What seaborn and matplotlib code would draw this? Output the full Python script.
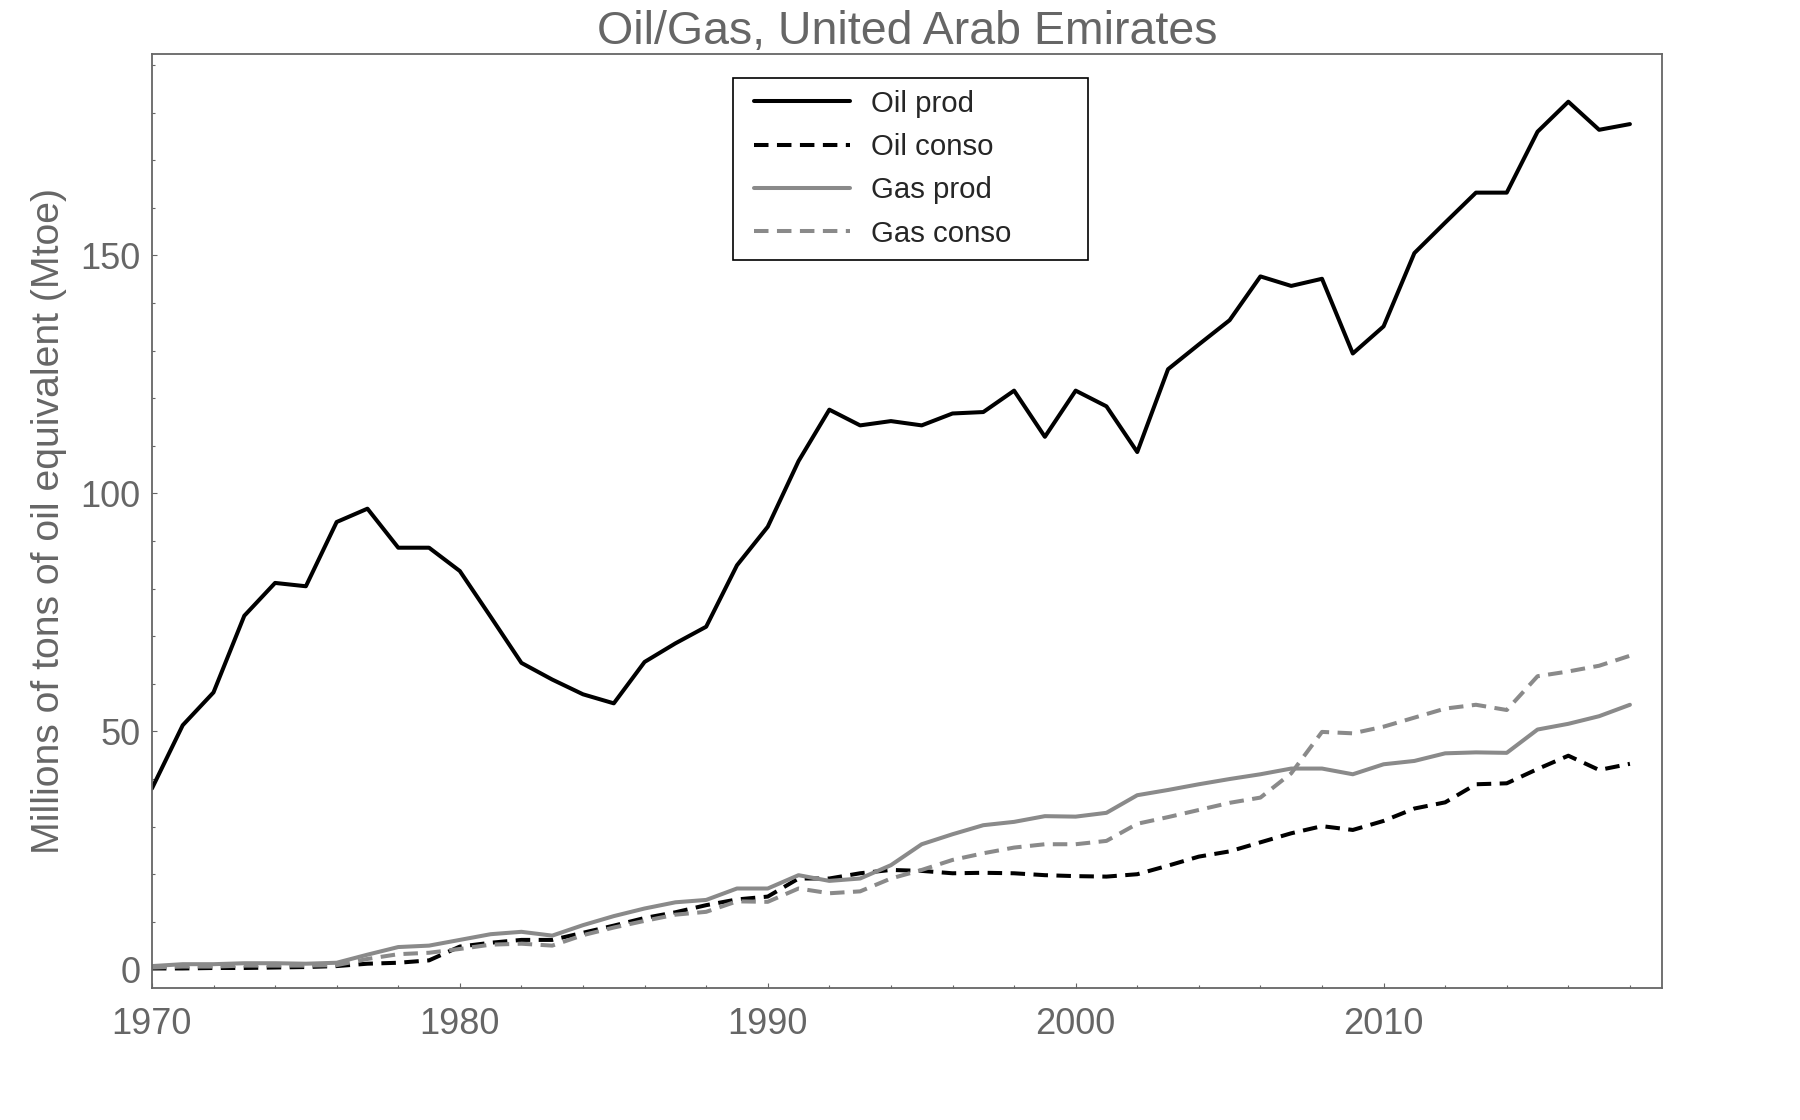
import matplotlib
matplotlib.use("Agg")
import matplotlib.pyplot as plt
from matplotlib.ticker import MultipleLocator
from matplotlib.lines import Line2D
from matplotlib.legend_handler import HandlerLine2D
import seaborn as sns
import pandas as pd

# values (Mtoe)
years = list(range(1970, 2019))

oil_prod = [38.0, 51.3, 58.2, 74.3, 81.2, 80.5, 94.0, 96.8, 88.6, 88.6,
            83.7, 74.1, 64.4, 60.9, 57.8, 55.9, 64.6, 68.5, 72.0, 84.9,
            93.0, 106.8, 117.6, 114.3, 115.2, 114.3, 116.8, 117.1, 121.6, 111.9,
            121.6, 118.3, 108.7, 126.1, 131.3, 136.4, 145.6, 143.6, 145.1, 129.4,
            135.1, 150.5, 156.9, 163.2, 163.2, 176.0, 182.3, 176.4, 177.6]

oil_conso = [0.2, 0.2, 0.3, 0.3, 0.4, 0.5, 0.7, 1.2, 1.4, 1.9,
             4.8, 5.6, 6.2, 6.2, 7.7, 9.2, 10.8, 12.0, 13.5, 14.7,
             15.3, 19.1, 19.1, 20.2, 20.9, 20.7, 20.2, 20.3, 20.2, 19.8,
             19.6, 19.5, 20.0, 21.8, 23.7, 24.8, 26.7, 28.6, 30.1, 29.3,
             31.2, 33.8, 35.1, 38.9, 39.1, 42.1, 44.9, 41.9, 43.2]

gas_prod = [0.7, 1.1, 1.1, 1.3, 1.3, 1.2, 1.4, 3.1, 4.7, 5.0,
            6.2, 7.4, 7.9, 7.1, 9.3, 11.2, 12.8, 14.1, 14.6, 17.0,
            17.0, 19.8, 18.6, 19.1, 21.9, 26.3, 28.4, 30.3, 31.0, 32.2,
            32.1, 32.9, 36.6, 37.7, 38.9, 40.0, 41.0, 42.2, 42.2, 41.0,
            43.1, 43.8, 45.4, 45.6, 45.5, 50.4, 51.6, 53.2, 55.6]

gas_conso = [0.4, 0.6, 0.6, 0.8, 0.8, 0.8, 0.9, 2.2, 3.2, 3.5,
             4.3, 5.2, 5.4, 5.0, 7.2, 8.8, 10.2, 11.5, 12.1, 14.3,
             14.2, 17.0, 16.0, 16.4, 19.1, 20.9, 23.0, 24.4, 25.6, 26.3,
             26.3, 27.0, 30.6, 32.0, 33.5, 35.0, 36.1, 41.2, 49.9, 49.6,
             51.0, 52.9, 54.8, 55.6, 54.5, 61.6, 62.6, 63.8, 65.9]

series_names = ["Oil prod", "Oil conso", "Gas prod", "Gas conso"]

AXIS_GREY = "#666666"
LINE_GREY = "#8a8a8a"


def plot_oil_gas(df):
    sns.set_style("ticks")
    plt.rcParams['font.family'] = ['Liberation Sans', 'DejaVu Sans']

    fig = plt.figure(figsize=(18, 11.2), dpi=100)
    ax = fig.add_axes([0.0844, 0.1183, 0.8389, 0.8338])

    palette = {"Oil prod": "black", "Oil conso": "black",
               "Gas prod": LINE_GREY, "Gas conso": LINE_GREY}
    dashes = {"Oil prod": "", "Oil conso": (3.6, 2.1),
              "Gas prod": "", "Gas conso": (3.6, 2.1)}

    sns.lineplot(data=df, x="Year", y="Mtoe", hue="Series", style="Series",
                 hue_order=series_names, style_order=series_names,
                 palette=palette, dashes=dashes, linewidth=2.9,
                 errorbar=None, ax=ax)

    ax.set_xlim(1970, 2019.04)
    ax.set_ylim(-3.8, 192.4)
    ax.xaxis.set_major_locator(MultipleLocator(10))
    ax.xaxis.set_minor_locator(MultipleLocator(2))
    ax.yaxis.set_major_locator(MultipleLocator(50))
    ax.yaxis.set_minor_locator(MultipleLocator(10))

    for spine in ax.spines.values():
        spine.set_visible(True)
        spine.set_color(AXIS_GREY)
        spine.set_linewidth(1.3)

    ax.tick_params(which="both", direction="in", color=AXIS_GREY, width=0.8,
                   top=False, right=False, labelcolor=AXIS_GREY, labelsize=26)
    ax.tick_params(axis="x", which="major", length=3.6, pad=14)
    ax.tick_params(axis="y", which="major", length=3.6, pad=8)
    ax.tick_params(which="minor", length=2.2)

    ax.set_xlabel("")
    ax.set_ylabel("Millions of tons of oil equivalent (Mtoe)", fontsize=28.2,
                  color=AXIS_GREY, labelpad=10)
    ax.set_title("Oil/Gas, United Arab Emirates", fontsize=33.5,
                 color=AXIS_GREY, pad=7)

    handles, labels = ax.get_legend_handles_labels()
    leg = ax.legend(handles, labels, loc="upper left",
                    bbox_to_anchor=(0.3848, 0.7833, 0.2349, 0.1911),
                    mode="expand", borderaxespad=0, fontsize=21.2,
                    handlelength=3.57, handletextpad=0.71, labelspacing=0.52,
                    borderpad=0.41, fancybox=False, framealpha=1,
                    edgecolor="black",
                    handler_map={Line2D: HandlerLine2D(xpad=0.3)})
    leg.get_frame().set_linewidth(1.2)
    for line in leg.get_lines():
        line.set_linewidth(2.9)

    plt.savefig("out.png", dpi=100)


if __name__ == '__main__':
    df = pd.DataFrame({
        "Year": years * 4,
        "Mtoe": oil_prod + oil_conso + gas_prod + gas_conso,
        "Series": [name for name in series_names for _ in years],
    })
    plot_oil_gas(df)
